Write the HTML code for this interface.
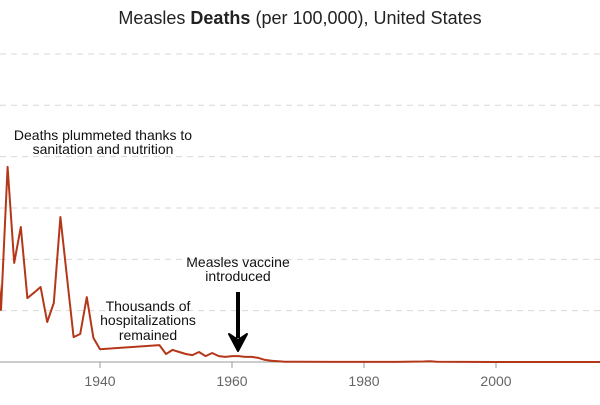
<!DOCTYPE html>
<html><head><meta charset="utf-8"><style>
body{margin:0;background:#fff;font-family:"Liberation Sans",sans-serif}
svg text{font-family:"Liberation Sans",sans-serif}
</style></head><body>
<svg width="600" height="400" viewBox="0 0 600 400">
<text x="300" y="24" text-anchor="middle" font-size="18" fill="#222">Measles <tspan font-weight="bold">Deaths</tspan> (per 100,000), United States</text>
<g id="grid"></g>
<g id="xaxis"></g>
<path id="line" fill="none" stroke="#b5371a" stroke-width="2" stroke-linejoin="round"/>
<g font-size="14" fill="#111" text-anchor="middle">
<text x="103" y="140">Deaths plummeted thanks to</text>
<text x="103" y="154">sanitation and nutrition</text>
<text x="148" y="311">Thousands of</text>
<text x="148" y="325">hospitalizations</text>
<text x="148" y="340">remained</text>
<text x="238" y="267">Measles vaccine</text>
<text x="238" y="281">introduced</text>
</g>
<g>
<line x1="238" y1="292" x2="238" y2="338" stroke="#000" stroke-width="4"/>
<path d="M229,334 L238,351 L247,334 L238,340 Z" fill="#000" stroke="#000" stroke-width="2" stroke-linejoin="round"/>
</g>
</svg>
<script>
const years=[1924,1925,1926,1927,1928,1929,1930,1931,1932,1933,1934,1935,1936,1937,1938,1939,1940,1949,1950,1951,1952,1953,1954,1955,1956,1957,1958,1959,1960,1961,1962,1963,1964,1965,1966,1967,1968,1970,1975,1980,1985,1989,1990,1991,1995,2000,2005,2010,2016];
const deaths=[5.5,2.03,7.6,3.86,5.26,2.49,2.7,2.92,1.56,2.3,5.65,3.3,0.97,1.09,2.53,0.94,0.5,0.66,0.31,0.47,0.39,0.31,0.27,0.39,0.23,0.35,0.23,0.2,0.23,0.23,0.2,0.2,0.16,0.08,0.05,0.03,0.01,0.01,0.005,0.005,0.003,0.02,0.03,0.01,0.002,0.001,0.001,0.001,0.001];
const gridVals=[2,4,6,8,10,12];
const xTicks=[1940,1960,1980,2000];
const x=y=>100+(y-1940)*6.6;
const yS=v=>362-v*25.67;
const ns="http://www.w3.org/2000/svg";
const grid=document.getElementById('grid');
gridVals.forEach(v=>{const l=document.createElementNS(ns,'line');


l.setAttribute('x1',0);l.setAttribute('x2',600);l.setAttribute('y1',yS(v));l.setAttribute('y2',yS(v));
l.setAttribute('stroke','#d8d8d8');l.setAttribute('stroke-dasharray','6,5');grid.appendChild(l);});
const ax=document.getElementById('xaxis');
const base=document.createElementNS(ns,'line');


base.setAttribute('x1',0);base.setAttribute('x2',600);base.setAttribute('y1',362);base.setAttribute('y2',362);base.setAttribute('stroke','#999');ax.appendChild(base);
xTicks.forEach(t=>{const tk=document.createElementNS(ns,'line');


tk.setAttribute('x1',x(t));tk.setAttribute('x2',x(t));tk.setAttribute('y1',362);tk.setAttribute('y2',368);tk.setAttribute('stroke','#999');ax.appendChild(tk);
const tx=document.createElementNS(ns,'text');


tx.setAttribute('x',x(t));tx.setAttribute('y',386);tx.setAttribute('text-anchor','middle');tx.setAttribute('font-size','14');tx.setAttribute('fill','#666');tx.textContent=t;ax.appendChild(tx);});
document.getElementById('line').setAttribute('d',years.map((yr,i)=>(i?'L':'M')+x(yr).toFixed(1)+','+yS(deaths[i]).toFixed(1)).join(' '));
</script>
</body></html>
